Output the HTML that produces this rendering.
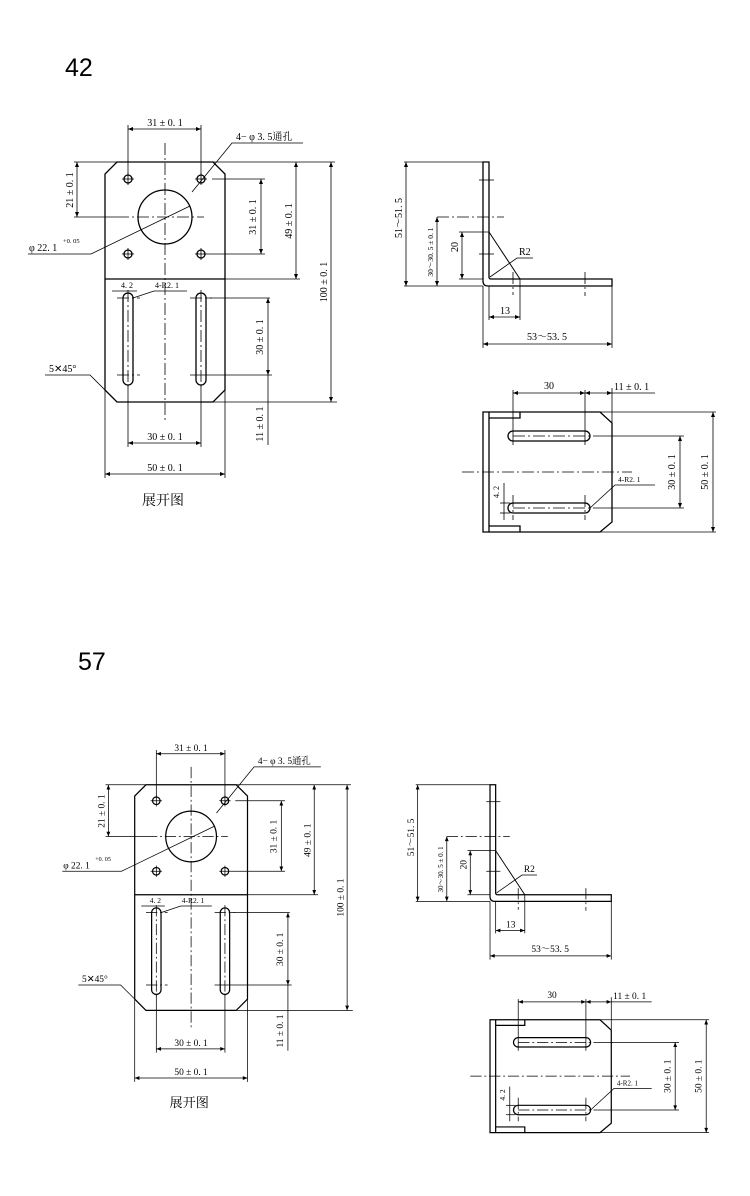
<!DOCTYPE html>
<html><head><meta charset="utf-8"><style>
html,body{margin:0;padding:0;background:#fff;width:750px;height:1196px;overflow:hidden}
svg{display:block}
text{font-family:"Liberation Serif","Noto Serif CJK SC",serif;font-size:10px;fill:#000}
.lbl{font-family:"Liberation Sans",sans-serif;font-size:25px}
.cn{font-family:"Noto Serif CJK SC","Noto Sans CJK SC",serif;font-size:14px}
.o{stroke:#000;stroke-width:1.3;fill:none}
.t{stroke:#000;stroke-width:0.8;fill:none}
.c{stroke:#000;stroke-width:0.8;fill:none;stroke-dasharray:12 3 2 3}
.d{stroke:#000;stroke-width:0.8;fill:none;marker-start:url(#a);marker-end:url(#a)}
</style></head><body>
<svg width="750" height="1196" viewBox="0 0 750 1196" xmlns="http://www.w3.org/2000/svg">
<defs>
<marker id="a" viewBox="0 0 10 10" refX="10" refY="5" markerWidth="6" markerHeight="5" orient="auto-start-reverse" markerUnits="userSpaceOnUse">
<path d="M0,1 L10,5 L0,9 z" fill="#000"/>
</marker>
</defs>
<text class="lbl" x="65" y="76">42</text>
<text class="lbl" x="78" y="670">57</text>
<g id="dw">
<polygon class="o" points="117,162 213,162 225,174 225,390 213,402 117,402 105,390 105,174"/>
<line class="o" x1="105" y1="279" x2="225" y2="279"/>
<circle class="o" cx="128" cy="179" r="4"/><circle class="o" cx="201" cy="179" r="4"/>
<circle class="o" cx="128" cy="254" r="4"/><circle class="o" cx="201" cy="254" r="4"/>
<circle class="o" cx="165" cy="217" r="27"/>
<g class="t">
<line x1="122" y1="179" x2="134" y2="179"/><line x1="128" y1="173" x2="128" y2="185"/>
<line x1="195" y1="179" x2="207" y2="179"/><line x1="201" y1="173" x2="201" y2="185"/>
<line x1="122" y1="254" x2="134" y2="254"/><line x1="128" y1="248" x2="128" y2="260"/>
<line x1="195" y1="254" x2="207" y2="254"/><line x1="201" y1="248" x2="201" y2="260"/>
</g>
<line class="c" x1="165" y1="143" x2="165" y2="422"/>
<line class="c" x1="117" y1="217" x2="204" y2="217"/>
<rect class="o" x="123" y="293" width="10" height="92" rx="5"/>
<rect class="o" x="196" y="293" width="10" height="92" rx="5"/>
<line class="c" x1="128" y1="290" x2="128" y2="390"/>
<line class="c" x1="201" y1="290" x2="201" y2="390"/>
<line class="c" x1="117" y1="298" x2="140" y2="298"/>
<line class="c" x1="117" y1="375" x2="140" y2="375"/>
<line class="c" x1="190" y1="298" x2="212" y2="298"/>
<line class="t" x1="128" y1="125" x2="128" y2="175"/><line class="t" x1="201" y1="125" x2="201" y2="175"/>
<line class="d" x1="128" y1="129" x2="201" y2="129"/>
<text x="165" y="126" text-anchor="middle">31 ± 0. 1</text>
<polyline class="t" points="192,192 232,143 303,143"/>
<text x="236" y="140">4− φ 3. 5通孔</text>
<line class="t" x1="74" y1="162" x2="117" y2="162"/><line class="t" x1="74" y1="217" x2="117" y2="217"/>
<line class="d" x1="77" y1="162" x2="77" y2="217"/>
<text transform="rotate(-90 73 190)" x="73" y="190" text-anchor="middle">21 ± 0. 1</text>
<polyline class="t" points="190,206 91,254 28,254"/>
<text x="29" y="251">φ 22. 1</text><text x="63" y="243" style="font-size:6.5px">+0. 05</text>
<line class="t" x1="212" y1="179" x2="265" y2="179"/><line class="t" x1="207" y1="254" x2="265" y2="254"/>
<line class="d" x1="261" y1="179" x2="261" y2="254"/>
<text transform="rotate(-90 256 217)" x="256" y="217" text-anchor="middle">31 ± 0. 1</text>
<line class="t" x1="213" y1="162" x2="335" y2="162"/><line class="t" x1="225" y1="279" x2="300" y2="279"/>
<line class="d" x1="296" y1="162" x2="296" y2="279"/>
<text transform="rotate(-90 292 221)" x="292" y="221" text-anchor="middle">49 ± 0. 1</text>
<line class="d" x1="331" y1="162" x2="331" y2="402"/>
<line class="t" x1="213" y1="402" x2="337" y2="402"/>
<text transform="rotate(-90 327 282)" x="327" y="282" text-anchor="middle">100 ± 0. 1</text>
<line class="t" x1="207" y1="298" x2="270" y2="298"/><line class="t" x1="190" y1="375" x2="272" y2="375"/>
<line class="d" x1="268" y1="298" x2="268" y2="375"/>
<text transform="rotate(-90 263 337)" x="263" y="337" text-anchor="middle">30 ± 0. 1</text>
<line class="t" x1="268" y1="375" x2="268" y2="445"/>
<text transform="rotate(-90 263 424)" x="263" y="424" text-anchor="middle">11 ± 0. 1</text>
<line class="t" x1="112" y1="291" x2="137" y2="291"/>
<text x="121" y="288" style="font-size:8px">4. 2</text>
<polyline class="t" points="133,298 154,291 187,291"/>
<text x="155" y="288" style="font-size:8px">4-R2. 1</text>
<polyline class="t" points="45,375 90,375 117,402"/>
<text x="49" y="372">5✕45°</text>
<line class="t" x1="128" y1="385" x2="128" y2="447"/><line class="t" x1="201" y1="385" x2="201" y2="447"/>
<line class="d" x1="128" y1="443" x2="201" y2="443"/>
<text x="165" y="440" text-anchor="middle">30 ± 0. 1</text>
<line class="t" x1="105" y1="390" x2="105" y2="478"/><line class="t" x1="225" y1="390" x2="225" y2="478"/>
<line class="d" x1="105" y1="474" x2="225" y2="474"/>
<text x="165" y="471" text-anchor="middle">50 ± 0. 1</text>
<text class="cn" x="163" y="505" text-anchor="middle">展开图</text>
<path class="o" d="M483,162 L489,162 L489,277 Q489,279 491,279 L612,279 L612,286 L488,286 Q483,286 483,281 Z"/>
<line class="t" x1="479" y1="180" x2="494" y2="180"/>
<line class="t" x1="479" y1="254" x2="494" y2="254"/>
<line class="c" x1="437" y1="217" x2="504" y2="217"/>
<line class="c" x1="513" y1="272" x2="513" y2="295"/>
<line class="c" x1="585" y1="272" x2="585" y2="296"/>
<line class="o" x1="489" y1="232" x2="520" y2="279" style="stroke-width:1"/>
<line class="t" x1="404" y1="162" x2="483" y2="162"/><line class="t" x1="404" y1="286" x2="483" y2="286"/>
<line class="d" x1="406" y1="162" x2="406" y2="286"/>
<text transform="rotate(-90 402 218)" x="402" y="218" text-anchor="middle">51～51. 5</text>
<line class="d" x1="437" y1="217" x2="437" y2="286"/>
<text transform="rotate(-90 433 252)" x="433" y="252" text-anchor="middle" style="font-size:7.5px">30～30. 5 ± 0. 1</text>
<line class="t" x1="459" y1="232" x2="489" y2="232"/><line class="t" x1="459" y1="279" x2="483" y2="279"/>
<line class="d" x1="462" y1="232" x2="462" y2="279"/>
<text transform="rotate(-90 458 247)" x="458" y="247" text-anchor="middle">20</text>
<polyline class="t" points="490,277 517,258 533,258"/>
<text x="519" y="255">R2</text>
<line class="t" x1="489" y1="286" x2="489" y2="320"/><line class="t" x1="520" y1="279" x2="520" y2="320"/>
<line class="d" x1="489" y1="317" x2="520" y2="317"/>
<text x="505" y="314" text-anchor="middle">13</text>
<line class="t" x1="483" y1="286" x2="483" y2="348"/><line class="t" x1="612" y1="286" x2="612" y2="348"/>
<line class="d" x1="483" y1="344" x2="612" y2="344"/>
<text x="547" y="340" text-anchor="middle">53～53. 5</text>
<polygon class="o" points="483,412 600,412 612,423 612,522 600,532 483,532"/>
<line class="o" x1="489" y1="412" x2="489" y2="532"/>
<polyline class="o" points="489,418 520,418 520,412"/>
<polyline class="o" points="489,526 520,526 520,532"/>
<rect class="o" x="508" y="431" width="82" height="10" rx="5"/>
<rect class="o" x="508" y="503" width="82" height="10" rx="5"/>
<line class="c" x1="513" y1="436" x2="597" y2="436"/>
<line class="c" x1="513" y1="508" x2="597" y2="508"/>
<line class="t" x1="597" y1="436" x2="684" y2="436"/>
<line class="t" x1="597" y1="508" x2="684" y2="508"/>
<line class="t" x1="513" y1="390" x2="513" y2="445"/><line class="t" x1="585" y1="390" x2="585" y2="445"/>
<line class="c" x1="513" y1="495" x2="513" y2="520"/><line class="c" x1="585" y1="495" x2="585" y2="520"/>
<line class="d" x1="513" y1="393" x2="585" y2="393"/>
<text x="549" y="389" text-anchor="middle">30</text>
<line class="t" x1="612" y1="388" x2="612" y2="423"/>
<line class="d" x1="585" y1="393" x2="612" y2="393"/>
<line class="t" x1="612" y1="393" x2="655" y2="393"/>
<text x="614" y="390">11 ± 0. 1</text>
<line class="t" x1="600" y1="412" x2="716" y2="412"/><line class="t" x1="600" y1="532" x2="716" y2="532"/>
<line class="d" x1="713" y1="412" x2="713" y2="532"/>
<text transform="rotate(-90 708 472)" x="708" y="472" text-anchor="middle">50 ± 0. 1</text>
<line class="d" x1="680" y1="436" x2="680" y2="508"/>
<text transform="rotate(-90 675 472)" x="675" y="472" text-anchor="middle">30 ± 0. 1</text>
<line class="c" x1="462" y1="472" x2="632" y2="472"/>
<line class="t" x1="504" y1="483" x2="504" y2="520"/>
<line class="t" x1="500" y1="503" x2="510" y2="503"/><line class="t" x1="500" y1="513" x2="510" y2="513"/>
<text transform="rotate(-90 499 492)" x="499" y="492" text-anchor="middle" style="font-size:8px">4. 2</text>
<polyline class="t" points="590,508 615,485 655,485"/>
<text x="618" y="482" style="font-size:7.5px">4-R2. 1</text>
</g>

<g transform="translate(36,632.5) scale(0.94)">
<polygon class="o" points="117,162 213,162 225,174 225,390 213,402 117,402 105,390 105,174"/>
<line class="o" x1="105" y1="279" x2="225" y2="279"/>
<circle class="o" cx="128" cy="179" r="4"/><circle class="o" cx="201" cy="179" r="4"/>
<circle class="o" cx="128" cy="254" r="4"/><circle class="o" cx="201" cy="254" r="4"/>
<circle class="o" cx="165" cy="217" r="27"/>
<g class="t">
<line x1="122" y1="179" x2="134" y2="179"/><line x1="128" y1="173" x2="128" y2="185"/>
<line x1="195" y1="179" x2="207" y2="179"/><line x1="201" y1="173" x2="201" y2="185"/>
<line x1="122" y1="254" x2="134" y2="254"/><line x1="128" y1="248" x2="128" y2="260"/>
<line x1="195" y1="254" x2="207" y2="254"/><line x1="201" y1="248" x2="201" y2="260"/>
</g>
<line class="c" x1="165" y1="143" x2="165" y2="422"/>
<line class="c" x1="117" y1="217" x2="204" y2="217"/>
<rect class="o" x="123" y="293" width="10" height="92" rx="5"/>
<rect class="o" x="196" y="293" width="10" height="92" rx="5"/>
<line class="c" x1="128" y1="290" x2="128" y2="390"/>
<line class="c" x1="201" y1="290" x2="201" y2="390"/>
<line class="c" x1="117" y1="298" x2="140" y2="298"/>
<line class="c" x1="117" y1="375" x2="140" y2="375"/>
<line class="c" x1="190" y1="298" x2="212" y2="298"/>
<line class="t" x1="128" y1="125" x2="128" y2="175"/><line class="t" x1="201" y1="125" x2="201" y2="175"/>
<line class="d" x1="128" y1="129" x2="201" y2="129"/>
<text x="165" y="126" text-anchor="middle">31 ± 0. 1</text>
<polyline class="t" points="192,192 232,143 303,143"/>
<text x="236" y="140">4− φ 3. 5通孔</text>
<line class="t" x1="74" y1="162" x2="117" y2="162"/><line class="t" x1="74" y1="217" x2="117" y2="217"/>
<line class="d" x1="77" y1="162" x2="77" y2="217"/>
<text transform="rotate(-90 73 190)" x="73" y="190" text-anchor="middle">21 ± 0. 1</text>
<polyline class="t" points="190,206 91,254 28,254"/>
<text x="29" y="251">φ 22. 1</text><text x="63" y="243" style="font-size:6.5px">+0. 05</text>
<line class="t" x1="212" y1="179" x2="265" y2="179"/><line class="t" x1="207" y1="254" x2="265" y2="254"/>
<line class="d" x1="261" y1="179" x2="261" y2="254"/>
<text transform="rotate(-90 256 217)" x="256" y="217" text-anchor="middle">31 ± 0. 1</text>
<line class="t" x1="213" y1="162" x2="335" y2="162"/><line class="t" x1="225" y1="279" x2="300" y2="279"/>
<line class="d" x1="296" y1="162" x2="296" y2="279"/>
<text transform="rotate(-90 292 221)" x="292" y="221" text-anchor="middle">49 ± 0. 1</text>
<line class="d" x1="331" y1="162" x2="331" y2="402"/>
<line class="t" x1="213" y1="402" x2="337" y2="402"/>
<text transform="rotate(-90 327 282)" x="327" y="282" text-anchor="middle">100 ± 0. 1</text>
<line class="t" x1="207" y1="298" x2="270" y2="298"/><line class="t" x1="190" y1="375" x2="272" y2="375"/>
<line class="d" x1="268" y1="298" x2="268" y2="375"/>
<text transform="rotate(-90 263 337)" x="263" y="337" text-anchor="middle">30 ± 0. 1</text>
<line class="t" x1="268" y1="375" x2="268" y2="445"/>
<text transform="rotate(-90 263 424)" x="263" y="424" text-anchor="middle">11 ± 0. 1</text>
<line class="t" x1="112" y1="291" x2="137" y2="291"/>
<text x="121" y="288" style="font-size:8px">4. 2</text>
<polyline class="t" points="133,298 154,291 187,291"/>
<text x="155" y="288" style="font-size:8px">4-R2. 1</text>
<polyline class="t" points="45,375 90,375 117,402"/>
<text x="49" y="372">5✕45°</text>
<line class="t" x1="128" y1="385" x2="128" y2="447"/><line class="t" x1="201" y1="385" x2="201" y2="447"/>
<line class="d" x1="128" y1="443" x2="201" y2="443"/>
<text x="165" y="440" text-anchor="middle">30 ± 0. 1</text>
<line class="t" x1="105" y1="390" x2="105" y2="478"/><line class="t" x1="225" y1="390" x2="225" y2="478"/>
<line class="d" x1="105" y1="474" x2="225" y2="474"/>
<text x="165" y="471" text-anchor="middle">50 ± 0. 1</text>
<text class="cn" x="163" y="505" text-anchor="middle">展开图</text>
<path class="o" d="M483,162 L489,162 L489,277 Q489,279 491,279 L612,279 L612,286 L488,286 Q483,286 483,281 Z"/>
<line class="t" x1="479" y1="180" x2="494" y2="180"/>
<line class="t" x1="479" y1="254" x2="494" y2="254"/>
<line class="c" x1="437" y1="217" x2="504" y2="217"/>
<line class="c" x1="513" y1="272" x2="513" y2="295"/>
<line class="c" x1="585" y1="272" x2="585" y2="296"/>
<line class="o" x1="489" y1="232" x2="520" y2="279" style="stroke-width:1"/>
<line class="t" x1="404" y1="162" x2="483" y2="162"/><line class="t" x1="404" y1="286" x2="483" y2="286"/>
<line class="d" x1="406" y1="162" x2="406" y2="286"/>
<text transform="rotate(-90 402 218)" x="402" y="218" text-anchor="middle">51～51. 5</text>
<line class="d" x1="437" y1="217" x2="437" y2="286"/>
<text transform="rotate(-90 433 252)" x="433" y="252" text-anchor="middle" style="font-size:7.5px">30～30. 5 ± 0. 1</text>
<line class="t" x1="459" y1="232" x2="489" y2="232"/><line class="t" x1="459" y1="279" x2="483" y2="279"/>
<line class="d" x1="462" y1="232" x2="462" y2="279"/>
<text transform="rotate(-90 458 247)" x="458" y="247" text-anchor="middle">20</text>
<polyline class="t" points="490,277 517,258 533,258"/>
<text x="519" y="255">R2</text>
<line class="t" x1="489" y1="286" x2="489" y2="320"/><line class="t" x1="520" y1="279" x2="520" y2="320"/>
<line class="d" x1="489" y1="317" x2="520" y2="317"/>
<text x="505" y="314" text-anchor="middle">13</text>
<line class="t" x1="483" y1="286" x2="483" y2="348"/><line class="t" x1="612" y1="286" x2="612" y2="348"/>
<line class="d" x1="483" y1="344" x2="612" y2="344"/>
<text x="547" y="340" text-anchor="middle">53～53. 5</text>
<polygon class="o" points="483,412 600,412 612,423 612,522 600,532 483,532"/>
<line class="o" x1="489" y1="412" x2="489" y2="532"/>
<polyline class="o" points="489,418 520,418 520,412"/>
<polyline class="o" points="489,526 520,526 520,532"/>
<rect class="o" x="508" y="431" width="82" height="10" rx="5"/>
<rect class="o" x="508" y="503" width="82" height="10" rx="5"/>
<line class="c" x1="513" y1="436" x2="597" y2="436"/>
<line class="c" x1="513" y1="508" x2="597" y2="508"/>
<line class="t" x1="597" y1="436" x2="684" y2="436"/>
<line class="t" x1="597" y1="508" x2="684" y2="508"/>
<line class="t" x1="513" y1="390" x2="513" y2="445"/><line class="t" x1="585" y1="390" x2="585" y2="445"/>
<line class="c" x1="513" y1="495" x2="513" y2="520"/><line class="c" x1="585" y1="495" x2="585" y2="520"/>
<line class="d" x1="513" y1="393" x2="585" y2="393"/>
<text x="549" y="389" text-anchor="middle">30</text>
<line class="t" x1="612" y1="388" x2="612" y2="423"/>
<line class="d" x1="585" y1="393" x2="612" y2="393"/>
<line class="t" x1="612" y1="393" x2="655" y2="393"/>
<text x="614" y="390">11 ± 0. 1</text>
<line class="t" x1="600" y1="412" x2="716" y2="412"/><line class="t" x1="600" y1="532" x2="716" y2="532"/>
<line class="d" x1="713" y1="412" x2="713" y2="532"/>
<text transform="rotate(-90 708 472)" x="708" y="472" text-anchor="middle">50 ± 0. 1</text>
<line class="d" x1="680" y1="436" x2="680" y2="508"/>
<text transform="rotate(-90 675 472)" x="675" y="472" text-anchor="middle">30 ± 0. 1</text>
<line class="c" x1="462" y1="472" x2="632" y2="472"/>
<line class="t" x1="504" y1="483" x2="504" y2="520"/>
<line class="t" x1="500" y1="503" x2="510" y2="503"/><line class="t" x1="500" y1="513" x2="510" y2="513"/>
<text transform="rotate(-90 499 492)" x="499" y="492" text-anchor="middle" style="font-size:8px">4. 2</text>
<polyline class="t" points="590,508 615,485 655,485"/>
<text x="618" y="482" style="font-size:7.5px">4-R2. 1</text>
</g>
</svg>
</body></html>
